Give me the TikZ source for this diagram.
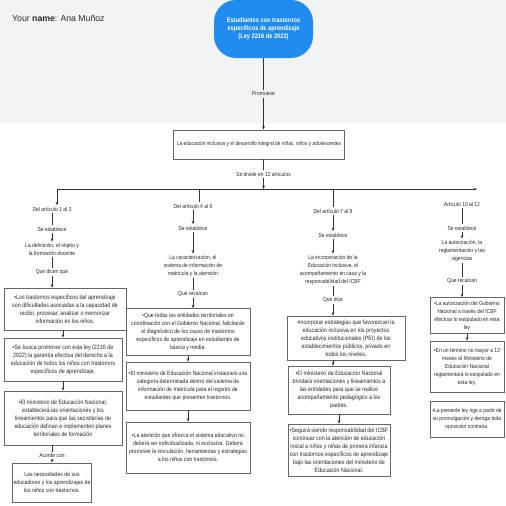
\documentclass[tikz,border=0pt]{standalone}
\usepackage{fontspec}
\setmainfont{Liberation Sans}
\newfontfamily\condfont[FakeStretch=0.86]{Liberation Sans}
\usetikzlibrary{arrows.meta}
\definecolor{topgray}{HTML}{F1F3F4}
\definecolor{rootblue}{HTML}{218CF0}
\definecolor{inkgray}{HTML}{2A2A2A}
\definecolor{linegray}{HTML}{333333}
\definecolor{framegray}{HTML}{666666}

\begin{document}
\begin{tikzpicture}[x=1pt, y=-1pt, ->, >={Stealth[length=3.4pt,width=2.8pt]},
        every edge/.append style={draw=linegray, line width=0.6pt},
        root node/.style={rounded corners=22pt, fill=rootblue, text=white, align=center,
            minimum width=99pt, minimum height=58pt, inner sep=1pt,
            font=\condfont\bfseries\fontsize{6.6}{8}\selectfont},
        label node/.style={align=center, text=inkgray, inner sep=1.5pt,
            font=\condfont\fontsize{5.8}{8}\selectfont},
        box node/.style={draw=framegray, line width=0.8pt, align=center, text=inkgray,
            inner sep=1pt, font=\condfont\fontsize{#1}{8}\selectfont},
        box node/.default=6.2]

    % Fondo
    \useasboundingbox (0,0) rectangle (506,506);
    \fill[white] (0,0) rectangle (506,506);
    \fill[topgray] (0,0) rectangle (506,123);

    % Cabecera
    \node[anchor=west, text=inkgray, inner sep=0pt, font=\fontsize{8.7}{10}\selectfont] (name) at (12,18) {Your \textbf{name}: Ana Muñoz};
    \node[root node] (root) at (263.5,29) {Estudiantes con trastornos\\específicos de aprendizaje\\(Ley 2216 de 2022)};
    \node[label node] (promueve) at (263.5,94) {Promueve};
    \node[box node=5.6, minimum width=171pt, minimum height=29pt] (main) at (259,144.5) {La educación inclusiva y el desarrollo integral de niñas, niños y adolescentes};
    \node[label node] (divide) at (263.5,174) {Se divide en 12 artículos};
    \coordinate (split) at (263.5,189);
    \coordinate (hl) at (57,189);
    \coordinate (hr) at (477,189);
    \coordinate (c2) at (199,189);
    \coordinate (c3) at (333,189);

    % Columna 1
    \node[label node] (art1) at (52,209) {Del artículo 1 al 3};
    \node[label node] (est1) at (52,229) {Se establece};
    \node[label node] (def1) at (52,249.5) {La definición, el objeto y\\la formación docente};
    \node[label node] (que1) at (52,272) {Que dicen que};
    \node[box node, minimum width=122pt, minimum height=42pt] (box11) at (65,309) {•Los trastornos específicos del aprendizaje\\son dificultades asociadas a la capacidad de\\recibir, procesar, analizar o memorizar\\información en los niños.};
    \node[box node, minimum width=118pt, minimum height=43pt] (box12) at (63,359.5) {•Se busca promover con esta ley (2216 de\\2022) la garantía efectiva del derecho a la\\educación de todos los niños con trastornos\\específicos de aprendizaje.};
    \node[box node, minimum width=118pt, minimum height=54pt] (box13) at (63,418) {•El ministerio de Educación Nacional,\\establecerá las orientaciones y los\\lineamientos para que las secretarías de\\educación definan e implementen planes\\territoriales de formación};
    \node[label node] (acorde) at (52,455.5) {Acorde con};
    \node[box node=6, minimum width=74pt, minimum height=39pt] (box14) at (52,482.5) {Las necesidades de sus\\educadores y los aprendizajes de\\los niños con trastornos.};

    % Columna 2
    \node[label node] (art2) at (193,206) {Del artículo 4 al 6};
    \node[label node] (est2) at (193,228) {Se establece};
    \node[label node] (car2) at (193,266) {La caracterización, el\\sistema de información de\\matrícula y la atención};
    \node[label node] (rec2) at (193,294) {Que recalcan};
    \node[box node=6, minimum width=124pt, minimum height=47pt] (box21) at (188,332) {•Que todas las entidades territoriales en\\coordinación con el Gobierno Nacional, falicitarán\\el diagnóstico de los casos de trastornos\\específicos de aprendizaje en estudiantes de\\básica y media.};
    \node[box node=6, minimum width=124pt, minimum height=48pt] (box22) at (188,386) {•El ministerio de Educación Nacional instaurará una\\categoría determinada dentro del sistema de\\información de matrícula para el registro de\\estudiantes que presenten trastornos.};
    \node[box node=6, minimum width=124pt, minimum height=51pt] (box23) at (188,447.5) {•La atención que ofrezca el sistema educativo no\\deberá ser individualizada, ni exclusiva. Deberá\\promover la vinculación, herramientas y estrategias\\a los niños con trastornos.};

    % Columna 3
    \node[label node] (art3) at (333,211) {Del artículo 7 al 9};
    \node[label node] (est3) at (333,235) {Se establece};
    \node[label node] (inc3) at (333,270) {La incorporación de la\\Educación inclusiva, el\\acompañamiento en casa y la\\responsabilidad del ICBF};
    \node[label node] (dice3) at (333,300) {Que dice};
    \node[box node, minimum width=118pt, minimum height=44pt] (box31) at (346,338) {•Incorporar estrategias que favorezcan la\\educación inclusiva en los proyectos\\educativos institucionales (PEI) de los\\establecimientos públicos, privado en\\todos los niveles.};
    \node[box node, minimum width=102pt, minimum height=48pt] (box32) at (339,390) {•El ministerio de Educación Nacional\\brindará orientaciones y lineamientos a\\las entidades para que se realice\\acompañamiento pedagógico a los\\padres.};
    \node[box node, minimum width=102pt, minimum height=52pt] (box33) at (339,450) {•Seguirá siendo responsabilidad del ICBF\\continuar con la atención de educación\\inicial a niños y niñas de primera infancia\\con trastornos específicos de aprendizaje\\bajo las orientaciones del ministerio de\\Educación Nacional.};

    % Columna 4
    \node[label node] (art4) at (462,204) {Artículo 10 al 12};
    \node[label node] (est4) at (462,228) {Se establece};
    \node[label node] (def4) at (462,251) {La autorización, la\\reglamentación y las\\vigencias};
    \node[label node] (rec4) at (462,281) {Que recalcan};
    \node[box node=5.8, minimum width=74pt, minimum height=36pt] (box41) at (467,315.5) {•La autorización del Gobierno\\Nacional a través del ICBF\\efectuar lo estipulado en esta\\ley};
    \node[box node=5.8, minimum width=74pt, minimum height=51pt] (box42) at (467,366.5) {•En un término no mayor a 12\\meses el Ministerio de\\Educación Nacional\\reglamentará lo estipulado en\\esta ley.};
    \node[box node=5.8, minimum width=74pt, minimum height=36pt] (box43) at (467,419) {•La presente ley rige a partir de\\su promulgación y deroga toda\\oposición contraria.};

    % Conectores
    \path (root) edge[-] (promueve);
    \path (promueve) edge (promueve |- main.north);
    \path (main.south -| divide) edge[-] (divide);
    \path (divide) edge (split);
    \path (hl) edge (hr);
    \path (hl) edge (hl |- art1.north);
    \path (c2) edge[-] (c2 |- art2.north);
    \path (c3) edge[-] (art3);

    \path (art1) edge[-] (est1);
    \path (est1) edge (def1);
    \path (def1) edge[-] (que1);
    \path (que1) edge (que1 |- box11.north);
    \path (box12 |- box11.south) edge (box12);
    \path (box13 |- box12.south) edge (box13);
    \path (box13.south -| acorde) edge[-] (acorde);
    \path (acorde) edge (acorde |- box14.north);

    \path (art2) edge (est2);
    \path (est2) edge (car2);
    \path (car2) edge[-] (rec2);
    \path (rec2) edge (rec2 |- box21.north);
    \path (box21) edge (box22);
    \path (box22) edge (box23);

    \path (art3) edge (est3);
    \path (est3) edge (inc3);
    \path (inc3) edge[-] (dice3);
    \path (dice3) edge (dice3 |- box31.north);
    \path (box31.south -| dice3) edge (dice3 |- box32.north);
    \path (box32) edge (box33);

    \path (art4) edge[-] (est4);
    \path (est4) edge (def4);
    \path (def4) edge[-] (rec4);
    \path (rec4) edge (rec4 |- box41.north);
    \path (box41) edge (box42);
\end{tikzpicture}
\end{document}
